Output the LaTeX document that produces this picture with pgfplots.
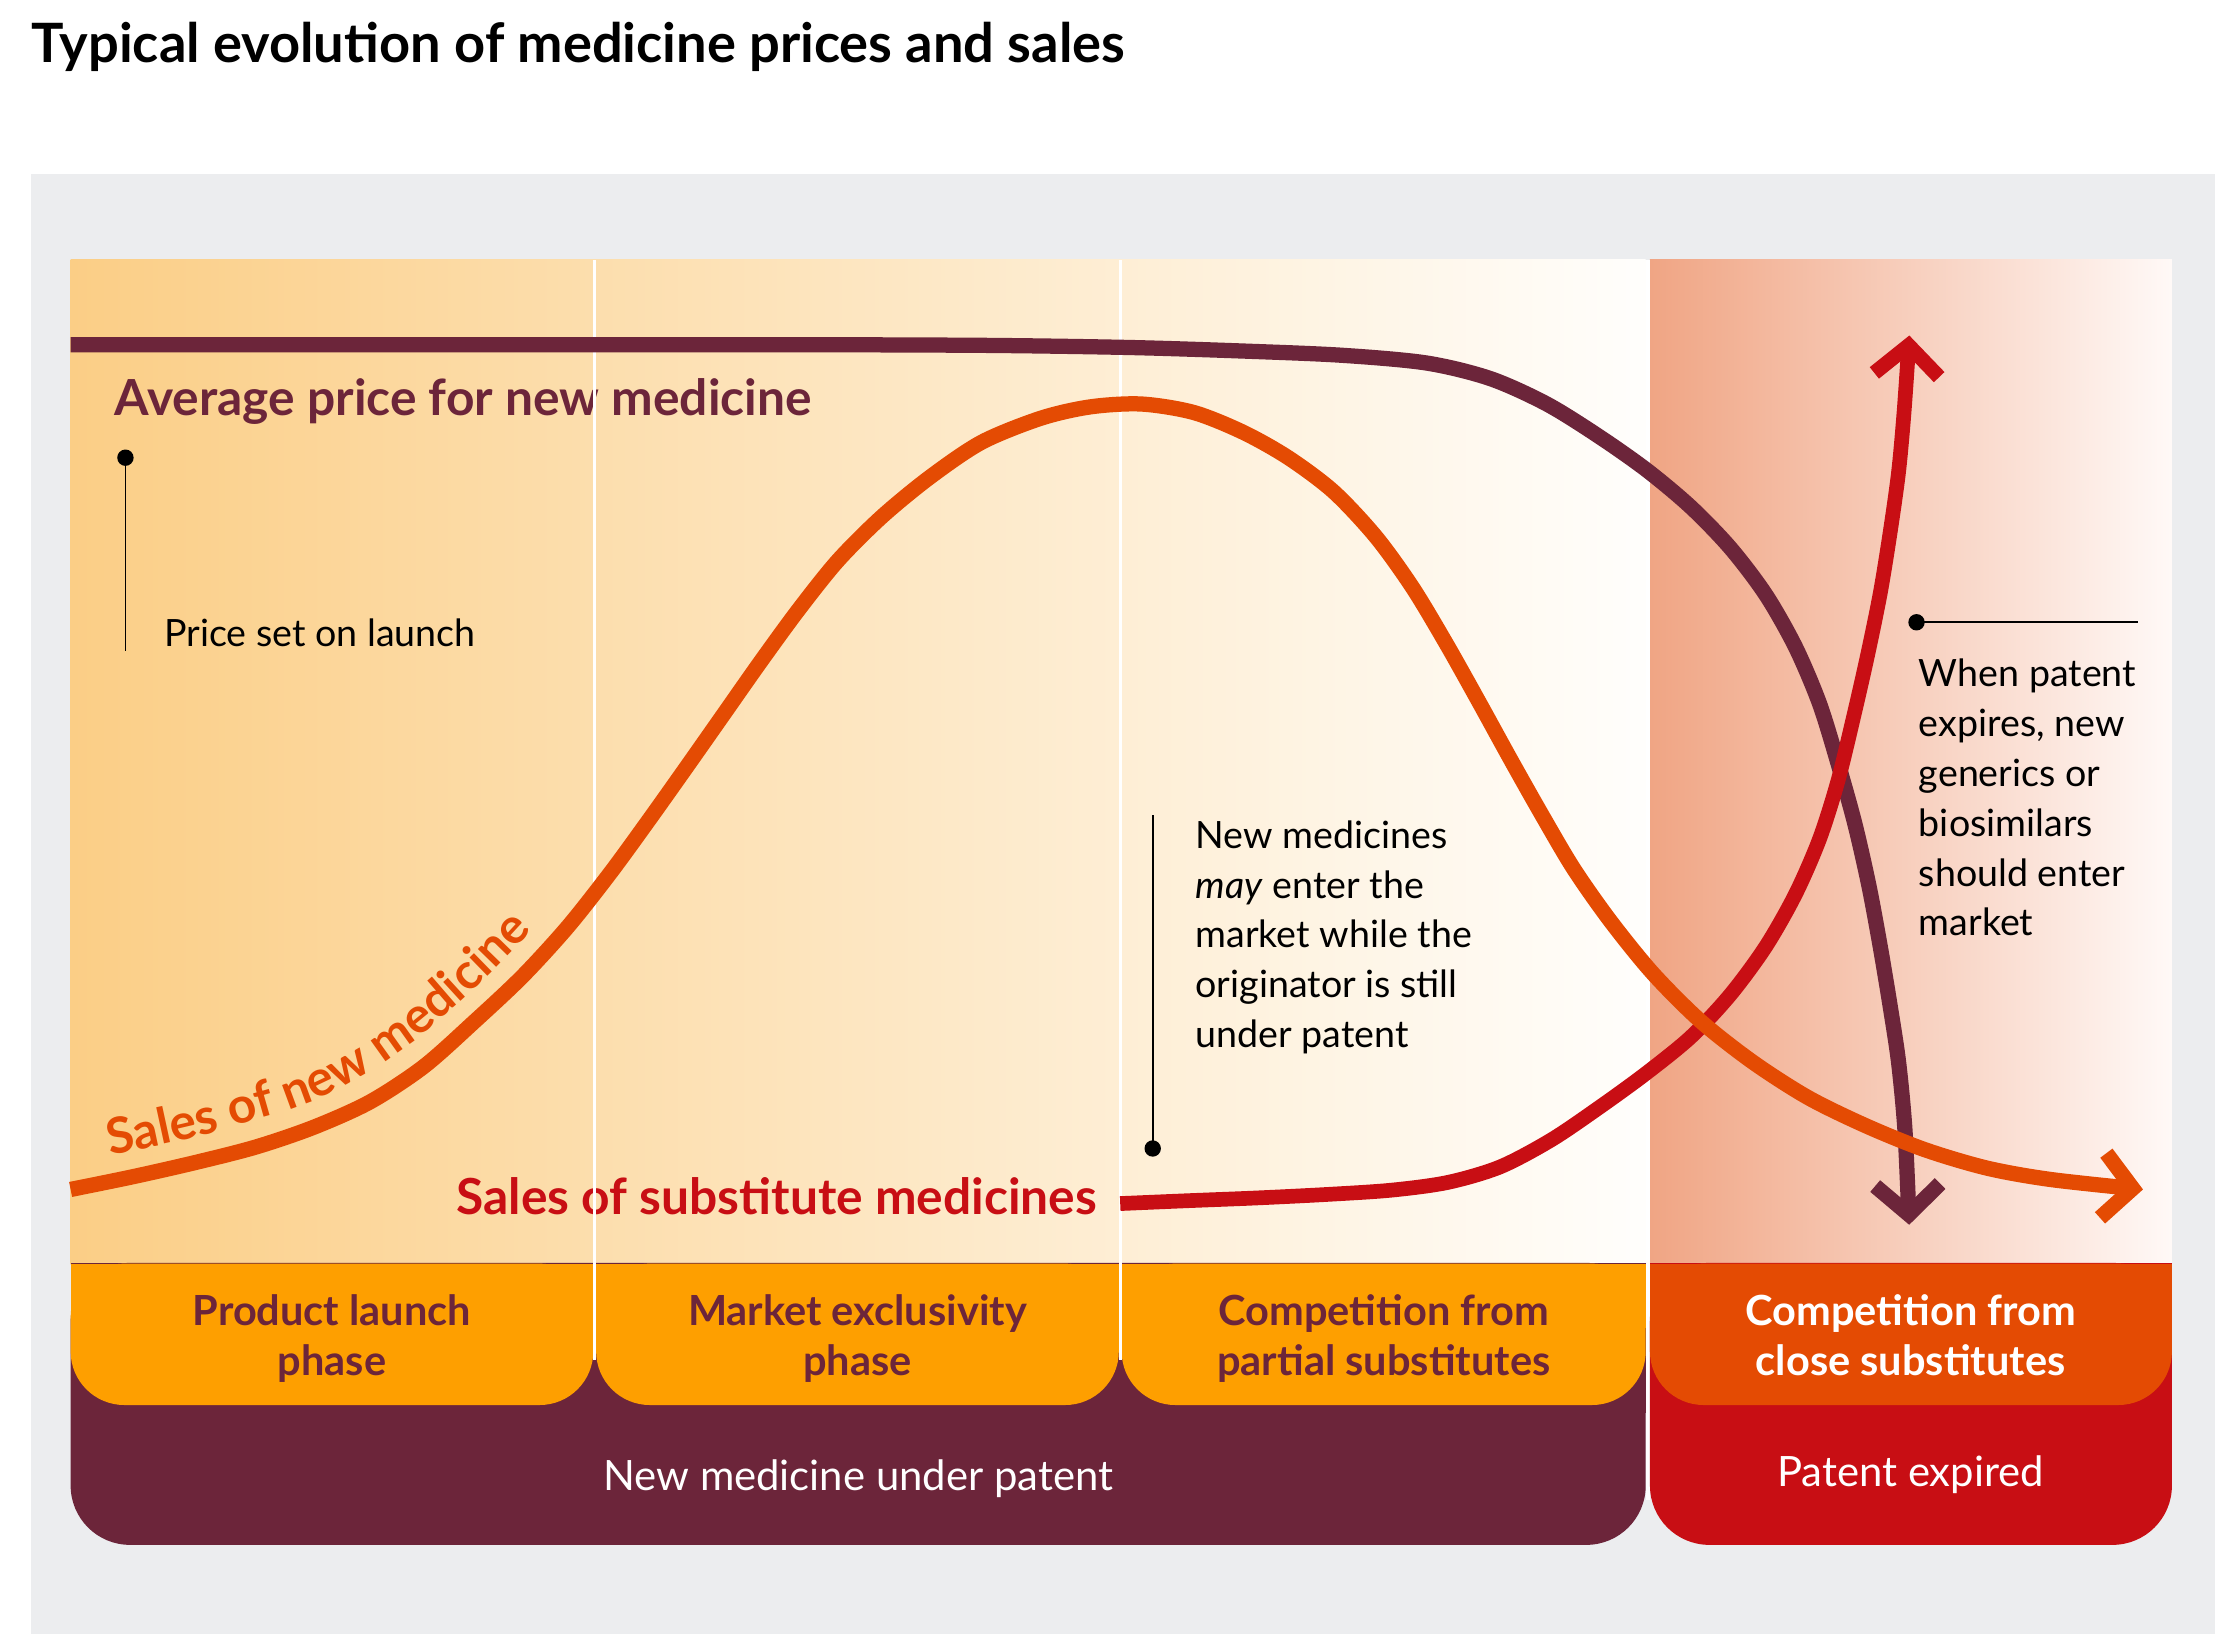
\documentclass[border=0pt]{standalone}
\usepackage{pgfplots}
\pgfplotsset{compat=1.18}
\usepackage{fontspec}
\setmainfont{Lato}
\usetikzlibrary{arrows.meta,decorations.text}
\definecolor{maroon}{HTML}{6C253A}
\definecolor{corange}{HTML}{E44B03}
\definecolor{cred}{HTML}{C80E14}
\definecolor{boxorange}{HTML}{FE9F00}
\definecolor{panelgrey}{HTML}{ECEDEF}
\definecolor{gA}{HTML}{FBCE86}
\definecolor{gB}{HTML}{FFFEFC}
\definecolor{gC}{HTML}{F0A584}
\definecolor{gD}{HTML}{FFF9F7}
\newcommand{\fs}[2]{\fontsize{#1}{#2}\selectfont}
\begin{document}
\begin{tikzpicture}
\begin{axis}[scale only axis, width=784pt, height=578.5pt,
  xmin=0, xmax=1568, ymin=0, ymax=1157, y dir=reverse,
  hide axis, clip=false]
% backgrounds
\fill[white] (axis cs:0,0) rectangle (axis cs:1568,1157);
\fill[panelgrey] (axis cs:22,123) rectangle (axis cs:1568,1157);
\shade[left color=gA, right color=gB] (axis cs:50,184) rectangle (axis cs:1165,895);
\shade[left color=gC, right color=gD] (axis cs:1168,184) rectangle (axis cs:1537.5,895);
\fill[white] (axis cs:1165,184) rectangle (axis cs:1168,1062);
% bottom bars
\fill[maroon, rounded corners=21pt] (axis cs:50,894) rectangle (axis cs:1165,1093.6);
\fill[maroon] (axis cs:50,894) rectangle (axis cs:1165,1000);
\fill[cred, rounded corners=21pt] (axis cs:1168,894) rectangle (axis cs:1537.5,1093.6);
\fill[cred] (axis cs:1168,894) rectangle (axis cs:1537.5,1000);
% phase boxes
\fill[boxorange, rounded corners=19pt] (axis cs:50,894.5) rectangle (axis cs:420,994.6);
\fill[boxorange] (axis cs:50,894.5) rectangle (axis cs:420,940);
\fill[boxorange, rounded corners=19pt] (axis cs:422,894.5) rectangle (axis cs:792,994.6);
\fill[boxorange] (axis cs:422,894.5) rectangle (axis cs:792,940);
\fill[boxorange, rounded corners=19pt] (axis cs:794,894.5) rectangle (axis cs:1165,994.6);
\fill[boxorange] (axis cs:794,894.5) rectangle (axis cs:1165,940);
\fill[corange, rounded corners=19pt] (axis cs:1168,894.5) rectangle (axis cs:1537.5,994.6);
\fill[corange] (axis cs:1168,894.5) rectangle (axis cs:1537.5,940);
% box texts
\begin{scope}[every node/.style={inner sep=0pt, anchor=base, font=\fs{14.7}{17}\bfseries}]
\node[text=maroon] at (axis cs:235,938) {Product launch};
\node[text=maroon] at (axis cs:235,973.4) {phase};
\node[text=maroon] at (axis cs:607,938) {Market exclusivity};
\node[text=maroon] at (axis cs:607,973.4) {phase};
\node[text=maroon] at (axis cs:979.5,938) {Competition from};
\node[text=maroon] at (axis cs:979.5,973.4) {partial substitutes};
\node[text=white] at (axis cs:1352.5,938) {Competition from};
\node[text=white] at (axis cs:1352.5,973.4) {close substitutes};
\end{scope}
\node[inner sep=0pt, anchor=base, text=white, font=\fs{14.8}{18}] at (axis cs:607.5,1054.8) {New medicine under patent};
\node[inner sep=0pt, anchor=base, text=white, font=\fs{14.8}{18}] at (axis cs:1352.5,1052.4) {Patent expired};
% title
\node[inner sep=0pt, anchor=base west, font=\fs{19.2}{22}\bfseries] at (axis cs:22,44.5) {Typical evolution of medicine prices and sales};
% curve labels
\node[inner sep=0pt, anchor=base west, text=maroon, font=\fs{17.6}{22}\bfseries] at (axis cs:81,293.8) {Average price for new medicine};
\node[inner sep=0pt, anchor=base east, text=cred, font=\fs{17.6}{22}\bfseries] at (axis cs:777,860) {Sales of substitute medicines};
\path[decorate, decoration={text along path, text color=corange, text align=left,
  text={|\fs{17.6}{19}\bfseries|Sales of new medicine}}]
  plot[smooth] coordinates {(axis cs:78,818) (axis cs:134,806) (axis cs:177,794) (axis cs:216,782) (axis cs:253,764) (axis cs:289,740) (axis cs:324,711) (axis cs:357,679.5) (axis cs:388,645.5) (axis cs:417,608) (axis cs:440,578)};
% white separators
\fill[white] (axis cs:420,184) rectangle (axis cs:422,963);
\fill[white] (axis cs:792,184) rectangle (axis cs:794,963);
% curves
\addplot[maroon, line width=5.4pt, smooth, no markers, -{Straight Barb[length=10.5pt,width=23pt,sharp]}] coordinates {
(50,244) (180,244) (310,244) (440,244) (570,244) (700,244.5) (800,246) (880,248.5) (950,251.5) (1010,257) (1055,268) (1095,286) (1132,309) (1166,333) (1197,359) (1225,388) (1250,421) (1271,458) (1288,498) (1301,540) (1313,583) (1323,627) (1331,670) (1338,712) (1344,752) (1348.5,800) (1351.5,867)};
\addplot[cred, line width=5.2pt, smooth, no markers, -{Straight Barb[length=10.5pt,width=23pt,sharp]}] coordinates {
(793,852) (840,850) (890,848) (940,845.5) (985,842.5) (1025,837) (1062,826) (1098,807) (1132,784) (1165,760) (1197,734) (1225,704) (1250,670) (1271,633) (1288,594) (1301,553) (1312,508) (1322,464) (1331,420) (1338,377) (1344,334) (1348,290) (1351.6,237.5)};
\addplot[corange, line width=5.4pt, smooth, no markers, -{Straight Barb[length=10.5pt,width=23pt,sharp]}] coordinates {
(50,842) (94,833) (138,823) (181,812) (222,798) (262,780) (300,755) (336,723) (370,691) (402,656) (432,618) (459,581) (486,543) (512,506) (538,469) (565,432) (593,397) (624,366) (658,338) (695,313) (737,296) (772,288) (808,286) (845,292) (880,306) (912,324) (944,348) (974,380) (1000,416) (1024,456) (1047,497) (1069,537) (1091,576) (1114,615) (1140,652) (1170,689) (1204,723) (1241,752) (1280,777) (1321,797) (1363,814) (1407,827) (1452,835) (1517,842)};
% annotations
\draw[black, line width=0.6pt] (axis cs:88.8,324) -- (axis cs:88.8,461);
\fill[black] (axis cs:88.8,324) circle[radius=2.9pt];
\node[inner sep=0pt, anchor=base west, font=\fs{13.3}{16}] at (axis cs:115.9,458) {Price set on launch};
\draw[black, line width=0.6pt] (axis cs:816,577) -- (axis cs:816,813);
\fill[black] (axis cs:816,813) circle[radius=2.9pt];
\begin{scope}[every node/.style={inner sep=0pt, anchor=base west, font=\fs{13.3}{16}}]
\node at (axis cs:846,600.5) {New medicines};
\node at (axis cs:846,635.7) {\textit{may} enter the};
\node at (axis cs:846,670.9) {market while the};
\node at (axis cs:846,706.1) {originator is still};
\node at (axis cs:846,741.3) {under patent};
\node at (axis cs:1358,486) {When patent};
\node at (axis cs:1358,521.3) {expires, new};
\node at (axis cs:1358,556.6) {generics or};
\node at (axis cs:1358,591.9) {biosimilars};
\node at (axis cs:1358,627.2) {should enter};
\node at (axis cs:1358,662.5) {market};
\end{scope}
\draw[black, line width=0.6pt] (axis cs:1356.7,440.5) -- (axis cs:1513.5,440.5);
\fill[black] (axis cs:1356.7,440.5) circle[radius=2.9pt];
\end{axis}
\end{tikzpicture}
\end{document}
